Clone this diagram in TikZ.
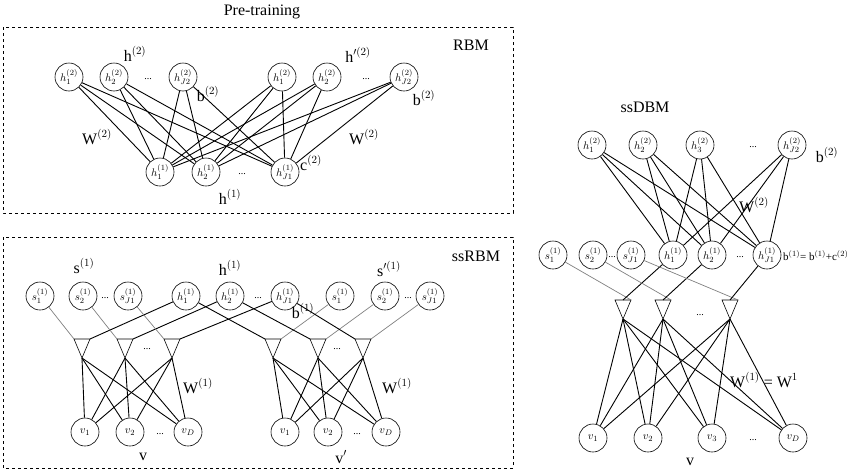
\documentclass[tikz,border=0pt]{standalone}
\usepackage{fontspec}
\setmainfont{Liberation Serif}
\begin{document}
\begin{tikzpicture}[x=1pt,y=-1pt,
  nd/.style={circle,draw,line width=0.6pt,minimum size=28pt,inner sep=0pt,font=\fontsize{11}{12}\selectfont},
  ed/.style={line width=0.9pt},
  gr/.style={line width=0.7pt,gray},
  lb/.style={font=\fontsize{16}{18}\selectfont,inner sep=0pt},
  dt/.style={font=\fontsize{10}{11}\selectfont,inner sep=0pt},
  box/.style={draw,dashed,line width=0.6pt}]
\useasboundingbox (0,0) rectangle (850,474);
\newcommand{\tri}[3]{%
  \coordinate (#1) at (#2,#3+19);
  \coordinate (#1l) at (#2-8,#3);
  \coordinate (#1r) at (#2+8,#3);
  \coordinate (#1c) at (#2,#3);
  \draw[line width=0.6pt] (#1l)--(#1r)--(#1)--cycle;}
% ---------- RBM ----------
\node[lb] (pt) at (262,12) {Pre-training};
\draw[box] (3,27) rectangle (513,213);
\node[lb] (rbm) at (471,45) {RBM};
\node[nd] (a1) at (69,77) {$h_1^{(2)}$};
\node[nd] (a2) at (114,77) {$h_2^{(2)}$};
\node[nd] (a3) at (183,77) {$h_{J2}^{(2)}$};
\node[nd] (a4) at (282,77) {$h_1^{(2)}$};
\node[nd] (a5) at (327,77) {$h_2^{(2)}$};
\node[nd] (a6) at (404,77) {$h_{J2}^{(2)}$};
\node[dt] (ad1) at (148,79) {...};
\node[dt] (ad2) at (366,79) {...};
\node[nd] (b1) at (160,172) {$h_1^{(1)}$};
\node[nd] (b2) at (206,172) {$h_2^{(1)}$};
\node[nd] (b3) at (285,172) {$h_{J1}^{(1)}$};
\node[dt] (bd) at (242,174) {...};
\foreach \i in {1,...,6}{\foreach \j in {1,2,3}{\draw[ed] (a\i)--(b\j);}}
\node[lb] (l1) at (135,54) {h$^{(2)}$};
\node[lb] (l2) at (358,55) {h$'^{(2)}$};
\node[lb] (l3) at (208,94) {b$^{(2)}$};
\node[lb] (l4) at (424,98) {b$^{(2)}$};
\node[lb] (l5) at (311,163) {c$^{(2)}$};
\node[lb] (l6) at (230,197) {h$^{(1)}$};
\node[lb] (l7) at (97,137) {W$^{(2)}$};
\node[lb] (l8) at (364,137) {W$^{(2)}$};
% ---------- ssRBM ----------
\draw[box] (3,237) rectangle (513,468);
\node[lb] (ssr) at (476,256) {ssRBM};
\node[nd] (s1) at (40,296) {$s_1^{(1)}$};
\node[nd] (s2) at (83,296) {$s_2^{(1)}$};
\node[nd] (s3) at (128,296) {$s_{J1}^{(1)}$};
\node[nd] (h1) at (186,296) {$h_1^{(1)}$};
\node[nd] (h2) at (230,296) {$h_2^{(1)}$};
\node[nd] (h3) at (285,296) {$h_{J1}^{(1)}$};
\node[nd] (t1) at (340,296) {$s_1^{(1)}$};
\node[nd] (t2) at (385,296) {$s_2^{(1)}$};
\node[nd] (t3) at (430,296) {$s_{J1}^{(1)}$};
\node[dt] (sd1) at (105,298) {...};
\node[dt] (sd2) at (258,298) {...};
\node[dt] (sd3) at (408,298) {...};
\tri{p1}{82}{339}\tri{p2}{125}{339}\tri{p3}{172}{339}
\tri{q1}{273}{339}\tri{q2}{318}{339}\tri{q3}{363}{339}
\node[dt] (pd) at (147,349) {...};
\node[dt] (qd) at (337,349) {...};
\node[nd] (v1) at (85,432) {$v_1$};
\node[nd] (v2) at (130,432) {$v_2$};
\node[nd] (v3) at (188,432) {$v_D$};
\node[nd] (w1) at (285,432) {$v_1$};
\node[nd] (w2) at (328,432) {$v_2$};
\node[nd] (w3) at (386,432) {$v_D$};
\node[dt] (vd1) at (160,434) {...};
\node[dt] (vd2) at (357,434) {...};
\foreach \i in {1,2,3}{
  \draw[gr] (s\i)--(p\i l);
  \draw[gr] (t\i)--(q\i r);
  \draw[ed] (h\i)--(p\i r);
  \draw[ed] (h\i)--(q\i l);
  \foreach \j in {1,2,3}{\draw[ed] (p\i)--(v\j); \draw[ed] (q\i)--(w\j);}}
\node[lb] (m1) at (84,266) {s$^{(1)}$};
\node[lb] (m2) at (230,268) {h$^{(1)}$};
\node[lb] (m3) at (389,269) {s$'^{(1)}$};
\node[lb] (m4) at (303,311) {b$^{(1)}$};
\node[lb] (m5) at (198,386) {W$^{(1)}$};
\node[lb] (m6) at (397,386) {W$^{(1)}$};
\node[lb] (m7) at (143,457) {v};
\node[lb] (m8) at (341,457) {v$'$};
% ---------- ssDBM ----------
\node[lb] (ssd) at (645,107) {ssDBM};
\node[nd] (c1) at (592,145) {$h_1^{(2)}$};
\node[nd] (c2) at (643,145) {$h_2^{(2)}$};
\node[nd] (c3) at (700,145) {$h_3^{(2)}$};
\node[nd] (c4) at (792,145) {$h_{J2}^{(2)}$};
\node[dt] (cd) at (753,147) {...};
\node[nd] (e1) at (553,255) {$s_1^{(1)}$};
\node[nd] (e2) at (593,255) {$s_2^{(1)}$};
\node[nd] (e3) at (631,255) {$s_{J1}^{(1)}$};
\node[nd] (f1) at (673,255) {$h_1^{(1)}$};
\node[nd] (f2) at (712,255) {$h_2^{(1)}$};
\node[nd] (f3) at (767,255) {$h_{J1}^{(1)}$};
\node[dt] (ed1) at (612,257) {...};
\node[dt] (ed2) at (740,257) {...};
\foreach \i in {1,...,4}{\foreach \j in {1,2,3}{\draw[ed] (c\i)--(f\j);}}
\tri{r1}{623}{300}\tri{r2}{663}{300}\tri{r3}{730}{300}
\node[dt] (rd) at (700,315) {...};
\node[nd] (g1) at (593,438) {$v_1$};
\node[nd] (g2) at (648,438) {$v_2$};
\node[nd] (g3) at (712,438) {$v_3$};
\node[nd] (g4) at (793,438) {$v_D$};
\node[dt] (gd) at (753,440) {...};
\foreach \i in {1,2,3}{
  \draw[gr] (e\i)--(r\i r);
  \draw[ed] (f\i)--(r\i c);
  \foreach \j in {1,...,4}{\draw[ed] (r\i)--(g\j);}}
\node[lb] (n1) at (827,155) {b$^{(2)}$};
\node[lb] (n2) at (754,205) {W$^{(2)}$};
\node[lb,anchor=west,font=\fontsize{11}{13}\selectfont] (n3) at (783,256) {b$^{(1)}$= b$^{(1)}$+c$^{(2)}$};
\node[lb] (n4) at (764,380) {W$^{(1)}$ = W$^{1}$};
\node[lb] (n5) at (690,462) {v};
\end{tikzpicture}
\end{document}
